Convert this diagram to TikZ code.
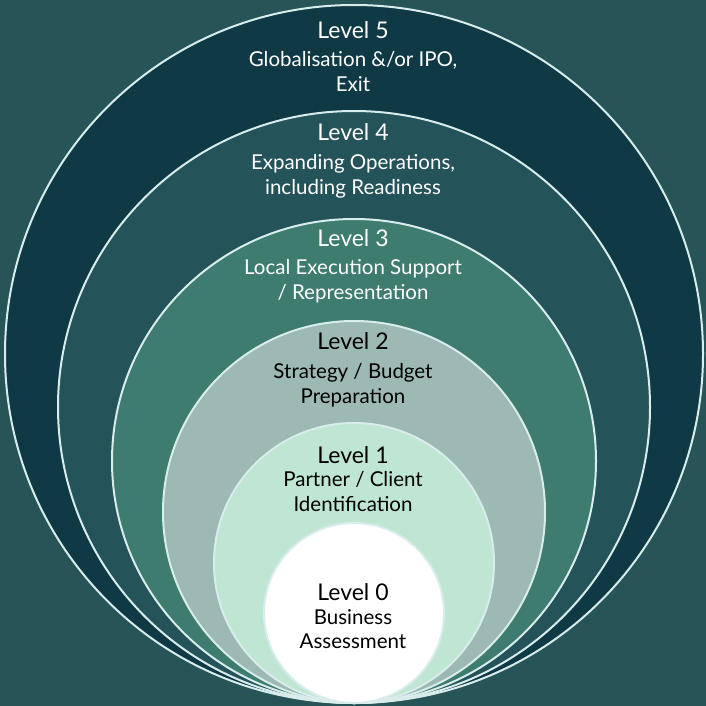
\documentclass[tikz,border=0pt]{standalone}
\usepackage{fontspec}
\setmainfont{Lato}
\begin{document}
\begin{tikzpicture}[x=1pt,y=-1pt,
  ring/.style={draw=white!85!teal,line width=2pt},
  lv/.style={font=\fontsize{23}{24}\selectfont,anchor=center},
  tx/.style={font=\fontsize{20.5}{24.5}\selectfont,align=center,anchor=north}]
\definecolor{bg}{HTML}{275457}
\definecolor{c5}{HTML}{0F3A45}
\definecolor{c4}{HTML}{24535A}
\definecolor{c3}{HTML}{3E7C70}
\definecolor{c2}{HTML}{9CB9B3}
\definecolor{c1}{HTML}{BFE5D3}
\fill[bg] (0,0) rectangle (706,706);
\useasboundingbox (0,0) rectangle (706,706);
\draw[ring,fill=c5] (354,354) circle (349);
\draw[ring,fill=c4] (354,407) circle (296);
\draw[ring,fill=c3] (354,461) circle (242);
\draw[ring,fill=c2] (354,512) circle (191);
\draw[ring,fill=c1] (354,563) circle (140);
\draw[ring,fill=white] (354,613) circle (90);
\node[lv,white] (l5) at (353,30) {Level 5};
\node[tx,white] (t5) at (353,48) {Globalisation \&/or IPO,\\Exit};
\node[lv,white] (l4) at (353,132) {Level 4};
\node[tx,white] (t4) at (353,151) {Expanding Operations,\\including Readiness};
\node[lv,white] (l3) at (353,238) {Level 3};
\node[tx,white] (t3) at (353,256) {Local Execution Support\\/ Representation};
\node[lv,black] (l2) at (353,341) {Level 2};
\node[tx,black] (t2) at (353,360) {Strategy / Budget\\Preparation};
\node[lv,black] (l1) at (353,455) {Level 1};
\node[tx,black] (t1) at (353,468) {Partner / Client\\Identification};
\node[lv,black] (l0) at (353,592) {Level 0};
\node[tx,black] (t0) at (353,606) {Business\\Assessment};
\end{tikzpicture}
\end{document}
